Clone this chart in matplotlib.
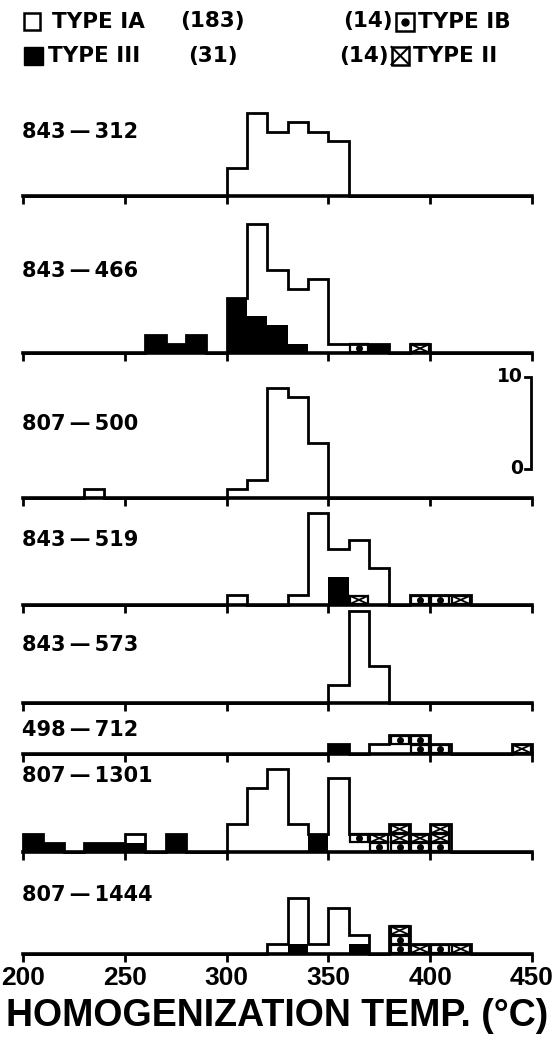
import numpy as np
import matplotlib
matplotlib.use("Agg")
import matplotlib.pyplot as plt
from matplotlib.patches import Rectangle

# ---------------- data: counts per 10 °C bin, keyed by the lower bin edge ----------------
samples = ["843\u2009—\u2009312", "843\u2009—\u2009466", "807\u2009—\u2009500", "843\u2009—\u2009519",
           "843\u2009—\u2009573", "498\u2009—\u2009712", "807\u2009—\u20091301", "807\u2009—\u20091444"]

type_ia = [
    {300: 3, 310: 9, 320: 7, 330: 8, 340: 7, 350: 6},
    {310: 10, 320: 6, 330: 6, 340: 8, 350: 1},
    {230: 1, 300: 1, 310: 2, 320: 12, 330: 11, 340: 6},
    {300: 1, 330: 1, 340: 10, 350: 3, 360: 6, 370: 4},
    {350: 2, 360: 10, 370: 4},
    {370: 1, 380: 1},
    {250: 1, 300: 3, 310: 7, 320: 9, 330: 3, 350: 8, 360: 1},
    {320: 1, 330: 5, 340: 1, 350: 5, 360: 1},
]
type_iii = [
    {},
    {260: 2, 270: 1, 280: 2, 300: 6, 310: 4, 320: 3, 330: 1, 370: 1},
    {},
    {350: 3},
    {},
    {350: 1},
    {200: 2, 210: 1, 230: 1, 240: 1, 250: 1, 270: 2, 340: 2},
    {330: 1, 360: 1},
]
type_ib = [
    {},
    {360: 1},
    {},
    {390: 1, 400: 1},
    {},
    {380: 1, 390: 2, 400: 1},
    {360: 1, 370: 1, 380: 1, 390: 1, 400: 1},
    {380: 2, 400: 1},
]
type_ii = [
    {},
    {390: 1},
    {},
    {360: 1, 410: 1},
    {},
    {440: 1},
    {370: 1, 380: 2, 390: 1, 400: 2},
    {380: 1, 390: 1, 410: 1},
]
stack_orders = [
    ["III", "IB", "II", "IA"],
    ["III", "IB", "II", "IA"],
    ["III", "IB", "II", "IA"],
    ["III", "IB", "II", "IA"],
    ["III", "IB", "II", "IA"],
    ["III", "IA", "IB", "II"],
    ["III", "IA", "IB", "II"],
    ["III", "IA", "IB", "II"],
]
legend_types = ["TYPE IA", "TYPE III", "TYPE IB", "TYPE II"]
legend_counts = [183, 31, 14, 14]
x_ticks = [200, 250, 300, 350, 400, 450]
x_label = "HOMOGENIZATION TEMP. (°C)"
scale_labels = ["0", "10"]

# ---------------- layout (pixels) ----------------
W, H = 552, 1056
XMIN, XMAX, BIN = 200, 450, 10
X0_PX, X1_PX = 23, 532
U = 9.2                      # pixels per count
AX_H = 150                   # axes height in px
baselines = [196, 353, 498, 604.5, 703, 753.5, 852, 953.5]
label_y = [132.5, 271, 424, 540, 645, 730, 776, 895]
LW = 2.0

fig = plt.figure(figsize=(W / 100, H / 100), dpi=100)
fig.patch.set_facecolor("white")

ov = fig.add_axes([0, 0, 1, 1])
ov.set_xlim(0, W)
ov.set_ylim(H, 0)
ov.axis("off")

BOLD = dict(family="DejaVu Sans", weight="bold", color="black")


def draw_box(ax, x0, y0, kind, w=BIN, h=1.0, lw=1.6):
    ax.add_patch(Rectangle((x0 + 0.6, y0 + 0.06), w - 1.2, h - 0.12, facecolor="white",
                           edgecolor="black", lw=lw, clip_on=False, zorder=3))
    if kind == "IB":
        ax.plot([x0 + w / 2], [y0 + h / 2], "o", ms=4, color="black", clip_on=False, zorder=4)
    else:
        ax.plot([x0 + 0.6, x0 + w - 0.6], [y0 + 0.06, y0 + h - 0.06], color="black", lw=1.3,
                clip_on=False, zorder=4)
        ax.plot([x0 + 0.6, x0 + w - 0.6], [y0 + h - 0.06, y0 + 0.06], color="black", lw=1.3,
                clip_on=False, zorder=4)


edges = np.arange(XMIN, XMAX + BIN, BIN)
L = X0_PX / W
WD = (X1_PX - X0_PX) / W
axes = []
for i, name in enumerate(samples):
    base = baselines[i]
    ax = fig.add_axes([L, 1 - base / H, WD, AX_H / H])
    ax.patch.set_alpha(0)
    ax.set_xlim(XMIN, XMAX)
    ax.set_ylim(0, AX_H / U)
    for s in ("top", "left", "right"):
        ax.spines[s].set_visible(False)
    ax.spines["bottom"].set_linewidth(2.6)
    ax.set_yticks([])
    ax.set_xticks(x_ticks)
    last = i == len(samples) - 1
    ax.tick_params(axis="x", direction="out", length=6, width=2.0, pad=3,
                   labelbottom=last, labelsize=19)
    if last:
        for t in ax.get_xticklabels():
            t.set_fontfamily("Liberation Sans")
            t.set_fontweight("bold")

    data = {"IA": type_ia[i], "III": type_iii[i], "IB": type_ib[i], "II": type_ii[i]}
    bottoms = np.zeros(len(edges) - 1)
    for kind in stack_orders[i]:
        for x0, n in sorted(data[kind].items()):
            k = int((x0 - XMIN) // BIN)
            b = bottoms[k]
            if kind == "III":
                ax.bar(x0, n, width=BIN, bottom=b, align="edge", color="black", lw=0,
                       clip_on=False, zorder=2)
            elif kind in ("IB", "II"):
                for j in range(n):
                    draw_box(ax, x0, b + j, kind)
            bottoms[k] += n
    ax.stairs(bottoms, edges, baseline=0, fill=False, color="black", lw=LW, clip_on=False,
              zorder=5)
    axes.append(ax)

    ov.text(X0_PX - 1, label_y[i], name, fontsize=15, va="center", ha="left", **BOLD)

# scale bar on the 807-500 panel
ax3 = axes[2]
b0 = 29.4 / U
ax3.plot([446.4, 449.6, 449.6, 446.4], [b0 + 10, b0 + 10, b0, b0], color="black", lw=2.0,
         clip_on=False, solid_joinstyle="miter")
ax3.text(445.5, b0 + 10, scale_labels[1], ha="right", va="center", fontsize=13.5, **BOLD)
ax3.text(445.5, b0, scale_labels[0], ha="right", va="center", fontsize=13.5, **BOLD)

# x label
ov.text(277, 1016, x_label, ha="center", va="center", fontsize=27,
        family="Liberation Sans", weight="bold")

# legend
ov.add_patch(Rectangle((24, 12.5), 15.5, 17, facecolor="white", edgecolor="black", lw=1.8))
ov.add_patch(Rectangle((24, 46.5), 19, 18, facecolor="black", edgecolor="black", lw=1.0))
ov.add_patch(Rectangle((396, 12.5), 18, 18, facecolor="white", edgecolor="black", lw=1.8))
ov.plot([405], [21.5], "o", ms=5, color="black")
ov.add_patch(Rectangle((391.5, 47), 17.5, 17.5, facecolor="white", edgecolor="black", lw=1.8))
ov.plot([391.5, 409], [47, 64.5], color="black", lw=1.5)
ov.plot([391.5, 409], [64.5, 47], color="black", lw=1.5)

LF = 15.5
ov.text(52, 21.5, legend_types[0], fontsize=LF, va="center", ha="left", **BOLD)
ov.text(180, 21.5, f"({legend_counts[0]})", fontsize=LF, va="center", ha="left", **BOLD)
ov.text(48, 56, legend_types[1], fontsize=LF, va="center", ha="left", **BOLD)
ov.text(188, 56, f"({legend_counts[1]})", fontsize=LF, va="center", ha="left", **BOLD)
ov.text(393, 21.5, f"({legend_counts[2]})", fontsize=LF, va="center", ha="right", **BOLD)
ov.text(418, 21.5, legend_types[2], fontsize=LF, va="center", ha="left", **BOLD)
ov.text(389, 56, f"({legend_counts[3]})", fontsize=LF, va="center", ha="right", **BOLD)
ov.text(413, 56, legend_types[3], fontsize=LF, va="center", ha="left", **BOLD)

fig.savefig("out.png", dpi=100, facecolor="white")
